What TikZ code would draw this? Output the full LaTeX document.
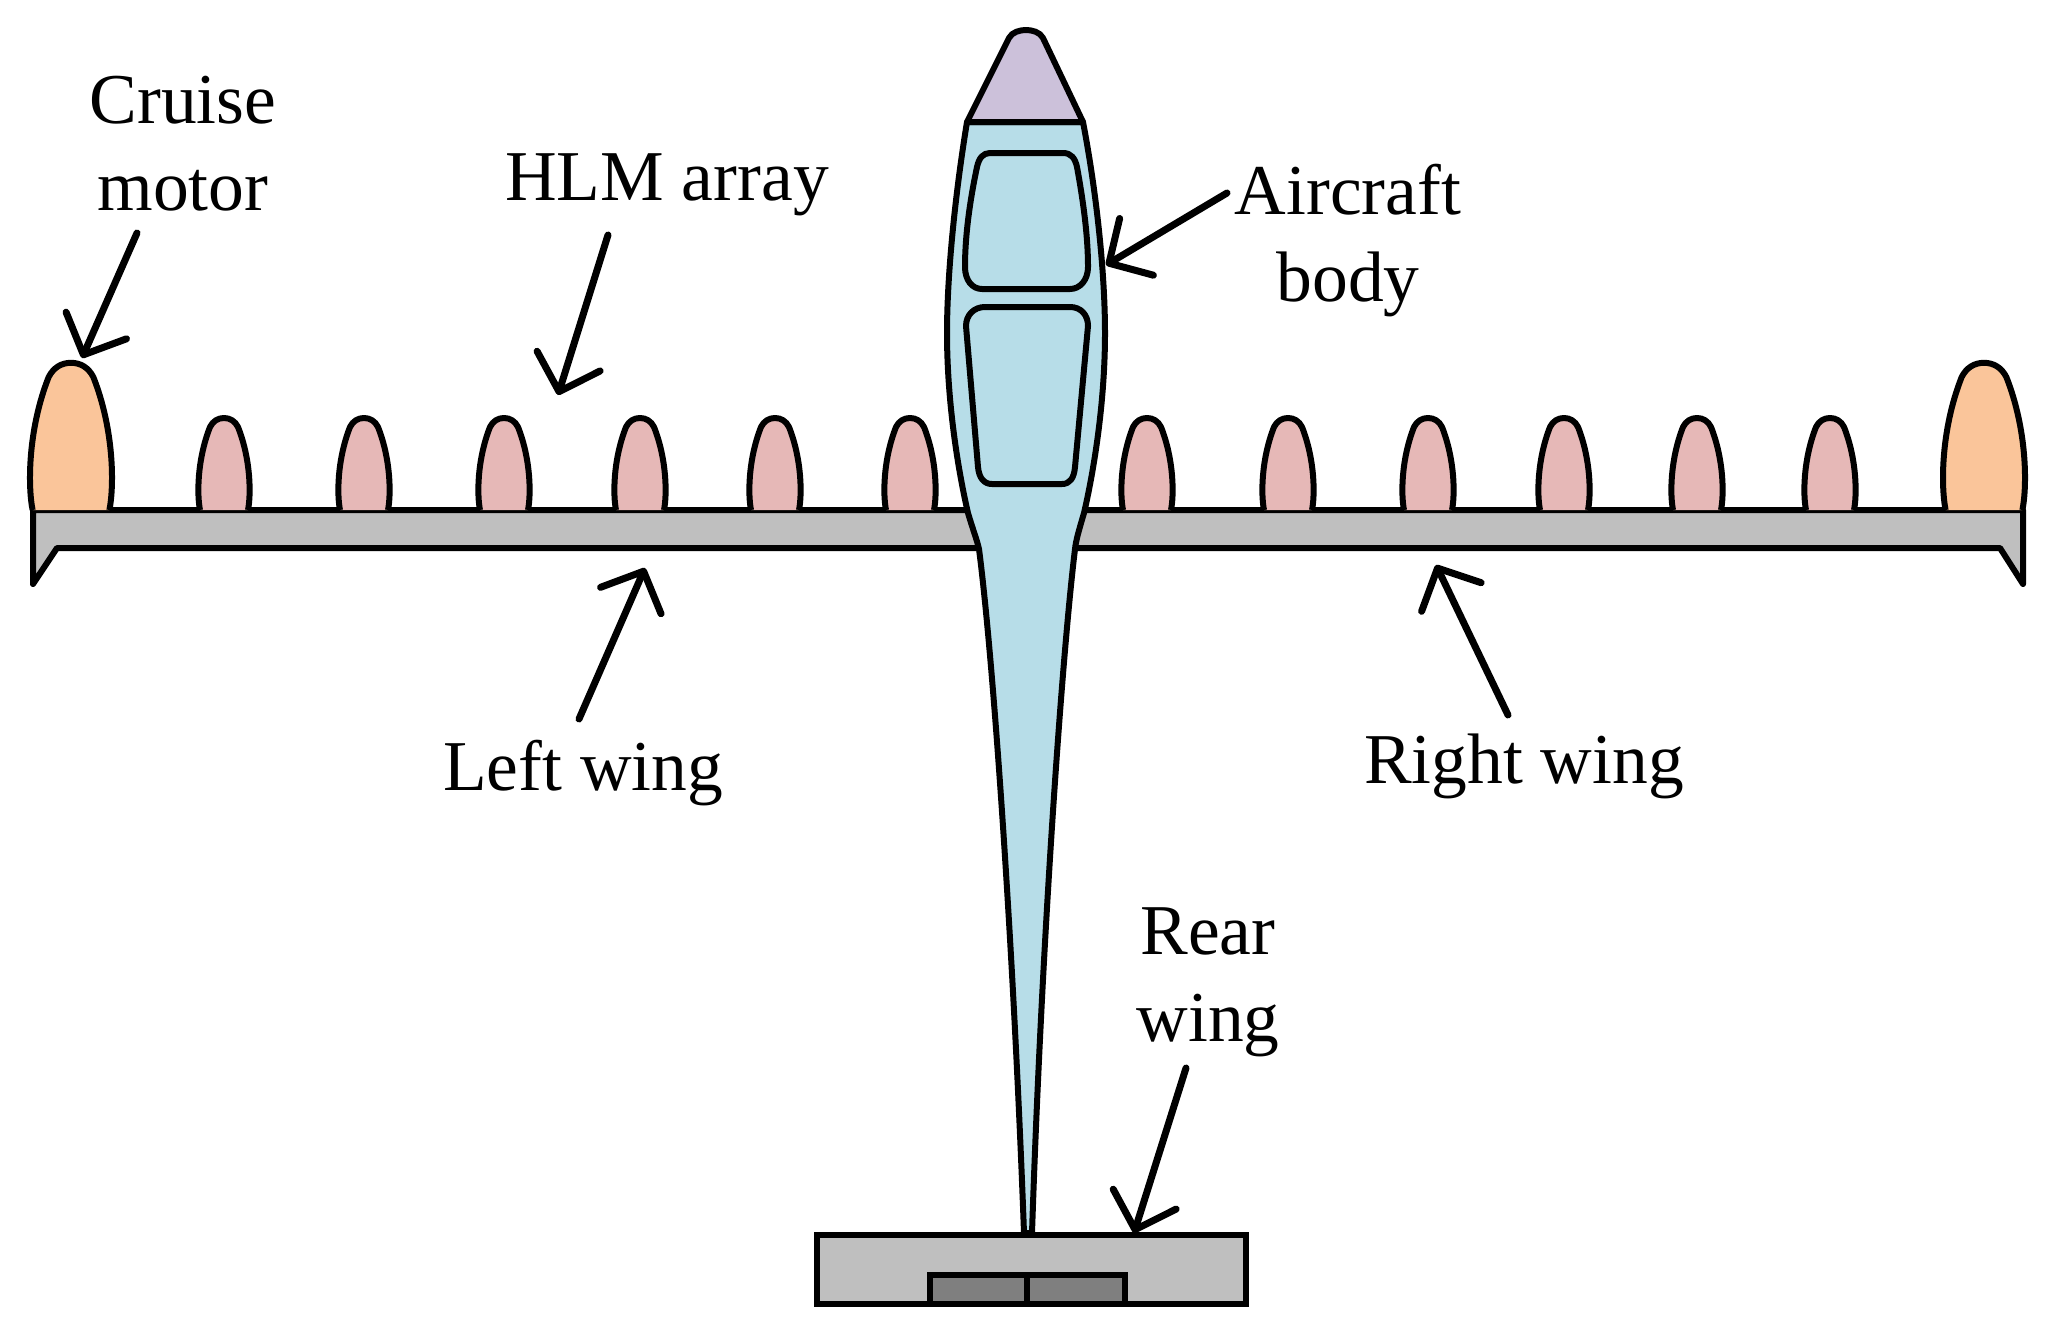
\documentclass[tikz,border=0pt]{standalone}
\usepackage{fontspec}
\setmainfont{Liberation Serif}
\usetikzlibrary{arrows.meta}
\definecolor{bodyc}{HTML}{B7DDE8}
\definecolor{nosec}{HTML}{CCC1DA}
\definecolor{greyc}{HTML}{BFBFBF}
\definecolor{darkc}{HTML}{7F7F7F}
\definecolor{motorc}{HTML}{E6B8B7}
\definecolor{cruisec}{HTML}{FAC59A}
\tikzset{
  outline/.style={draw=black,line width=6pt,line join=round},
  callout/.style={draw=black,line width=7pt,line cap=round,-{Straight Barb[length=32pt,width=66pt,round]}},
  lbl/.style={font=\fontsize{71.5}{87}\selectfont,align=center,inner sep=0pt,text=black}
}
\newcommand{\motorpath}{(-24,0) .. controls (-27,-15) and (-27,-50) .. (-14,-83) .. controls (-11,-89) and (-6,-92) .. (0,-92) .. controls (6,-92) and (11,-89) .. (14,-83) .. controls (27,-50) and (27,-15) .. (24,0)}
\begin{document}
\begin{tikzpicture}[x=1pt,y=-1pt]
\useasboundingbox (0,0) rectangle (2048,1336);
% wing
\path[fill=greyc] (33,510) -- (2023,510) -- (2023,584) -- (2000,548) -- (57,548) -- (33,584) -- cycle;
\draw[outline] (33,510) -- (2023,510) -- (2023,584) -- (2000,548) -- (57,548) -- (33,584) -- cycle;
% motors
\foreach \cx in {224,364,504,640,775,910,1147,1288,1428,1564,1697,1830}{
  \begin{scope}[shift={(\cx,510)}]
    \path[fill=motorc] \motorpath -- cycle;
    \draw[outline] \motorpath;
  \end{scope}
}
\foreach \cx in {71,1984}{
  \begin{scope}[shift={(\cx,510)},scale=1.6]
    \path[fill=cruisec] \motorpath -- cycle;
    \draw[outline] \motorpath;
  \end{scope}
}
% fuselage
\draw[outline,fill=bodyc] (967,122) .. controls (955,195) and (947,275) .. (947,333)
  .. controls (947,402) and (958,470) .. (968,513)
  .. controls (973,530) and (977,540) .. (979,549)
  .. controls (994,665) and (1014,960) .. (1024,1233)
  -- (1032,1233)
  .. controls (1041,960) and (1061,665) .. (1075,549)
  .. controls (1076,540) and (1079,530) .. (1084,513)
  .. controls (1094,470) and (1105,402) .. (1105,333)
  .. controls (1105,275) and (1097,195) .. (1083,122) -- cycle;
% nose
\draw[outline,fill=nosec] (967,122) -- (1009,38) .. controls (1012,32) and (1020,30) .. (1026,30)
  .. controls (1032,30) and (1040,32) .. (1043,38) -- (1083,122) -- cycle;
% windows
\draw[outline] (990,153) -- (1063,153) .. controls (1071,153) and (1075,158) .. (1077,167)
  .. controls (1083,200) and (1088,235) .. (1088,267)
  .. controls (1088,280) and (1080,289) .. (1070,289) -- (982,289)
  .. controls (972,289) and (965,280) .. (965,267)
  .. controls (965,235) and (970,200) .. (977,167)
  .. controls (979,158) and (983,153) .. (990,153) -- cycle;
\draw[outline] (985,307) -- (1070,307) .. controls (1081,307) and (1088,315) .. (1088,326)
  -- (1075,467) .. controls (1074,478) and (1070,484) .. (1062,484) -- (992,484)
  .. controls (984,484) and (979,478) .. (978,467)
  -- (966,326) .. controls (966,315) and (974,307) .. (985,307) -- cycle;
% rear wing
\draw[outline,fill=greyc,line join=miter] (817,1235) rectangle (1246,1304);
\draw[outline,fill=darkc,line join=miter] (930,1275) rectangle (1125,1304);
\draw[outline,line join=miter] (1027,1275) -- (1027,1304);
% labels
\node[lbl] (cruise) at (183,144) {Cruise\\motor};
\node[lbl] (hlm) at (667,185) {HLM array};
\node[lbl] (body) at (1348,241) {Aircraft\\body};
\node[lbl] (lwing) at (583,773) {Left wing};
\node[lbl] (rwing) at (1524,766) {Right wing};
\node[lbl] (rear) at (1208,982) {Rear\\wing};
% callouts
\coordinate (a1) at (137,233); \coordinate (t1) at (82,358);
\coordinate (a2) at (608,235); \coordinate (t2) at (558,395);
\coordinate (a3) at (1227,193); \coordinate (t3) at (1106,265);
\coordinate (a4) at (579,719); \coordinate (t4) at (645,568);
\coordinate (a5) at (1508,715); \coordinate (t5) at (1436,565);
\coordinate (a6) at (1186,1068); \coordinate (t6) at (1134,1233);
\draw[callout] (a1) -- (t1);
\draw[callout] (a2) -- (t2);
\draw[callout] (a3) -- (t3);
\draw[callout] (a4) -- (t4);
\draw[callout] (a5) -- (t5);
\draw[callout] (a6) -- (t6);
\end{tikzpicture}
\end{document}
